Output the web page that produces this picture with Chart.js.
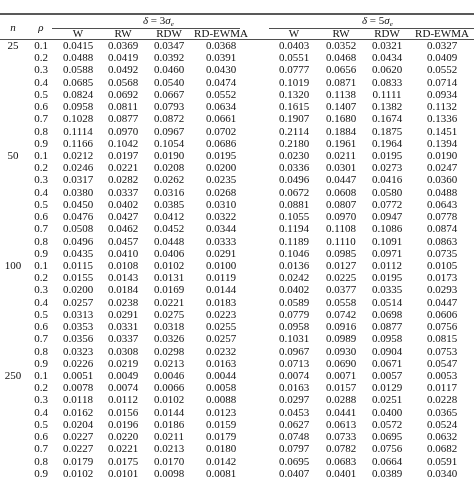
<!DOCTYPE html>
<html><head><meta charset="utf-8">
<script src="https://cdn.jsdelivr.net/npm/chart.js@4"></script>
<style>html,body{margin:0;padding:0;background:#fff}#w{width:474px;height:484px}</style>
</head><body><div id="w"><canvas id="c"></canvas></div>
<script>
const nValues = ["25","50","100","250"];
const rhoValues = ["0.1","0.2","0.3","0.4","0.5","0.6","0.7","0.8","0.9"];
const colHeaders = ["W","RW","RDW","RD-EWMA","W","RW","RDW","RD-EWMA"];
const groupHeaders = ["δ = 3σ","δ = 5σ"];
const W3 = ["0.0415","0.0488","0.0588","0.0685","0.0824","0.0958","0.1028","0.1114","0.1166","0.0212","0.0246","0.0317","0.0380","0.0450","0.0476","0.0508","0.0496","0.0435","0.0115","0.0155","0.0200","0.0257","0.0313","0.0353","0.0356","0.0323","0.0226","0.0051","0.0078","0.0118","0.0162","0.0204","0.0227","0.0227","0.0179","0.0102"];
const RW3 = ["0.0369","0.0419","0.0492","0.0568","0.0692","0.0811","0.0877","0.0970","0.1042","0.0197","0.0221","0.0282","0.0337","0.0402","0.0427","0.0462","0.0457","0.0410","0.0108","0.0143","0.0184","0.0238","0.0291","0.0331","0.0337","0.0308","0.0219","0.0049","0.0074","0.0112","0.0156","0.0196","0.0220","0.0221","0.0175","0.0101"];
const RDW3 = ["0.0347","0.0392","0.0460","0.0540","0.0667","0.0793","0.0872","0.0967","0.1054","0.0190","0.0208","0.0262","0.0316","0.0385","0.0412","0.0452","0.0448","0.0406","0.0102","0.0131","0.0169","0.0221","0.0275","0.0318","0.0326","0.0298","0.0213","0.0046","0.0066","0.0102","0.0144","0.0186","0.0211","0.0213","0.0170","0.0098"];
const RDE3 = ["0.0368","0.0391","0.0430","0.0474","0.0552","0.0634","0.0661","0.0702","0.0686","0.0195","0.0200","0.0235","0.0268","0.0310","0.0322","0.0344","0.0333","0.0291","0.0100","0.0119","0.0144","0.0183","0.0223","0.0255","0.0257","0.0232","0.0163","0.0044","0.0058","0.0088","0.0123","0.0159","0.0179","0.0180","0.0142","0.0081"];
const W5 = ["0.0403","0.0551","0.0777","0.1019","0.1320","0.1615","0.1907","0.2114","0.2180","0.0230","0.0336","0.0496","0.0672","0.0881","0.1055","0.1194","0.1189","0.1046","0.0136","0.0242","0.0402","0.0589","0.0779","0.0958","0.1031","0.0967","0.0713","0.0074","0.0163","0.0297","0.0453","0.0627","0.0748","0.0797","0.0695","0.0407"];
const RW5 = ["0.0352","0.0468","0.0656","0.0871","0.1138","0.1407","0.1680","0.1884","0.1961","0.0211","0.0301","0.0447","0.0608","0.0807","0.0970","0.1108","0.1110","0.0985","0.0127","0.0225","0.0377","0.0558","0.0742","0.0916","0.0989","0.0930","0.0690","0.0071","0.0157","0.0288","0.0441","0.0613","0.0733","0.0782","0.0683","0.0401"];
const RDW5 = ["0.0321","0.0434","0.0620","0.0833","0.1111","0.1382","0.1674","0.1875","0.1964","0.0195","0.0273","0.0416","0.0580","0.0772","0.0947","0.1086","0.1091","0.0971","0.0112","0.0195","0.0335","0.0514","0.0698","0.0877","0.0958","0.0904","0.0671","0.0057","0.0129","0.0251","0.0400","0.0572","0.0695","0.0756","0.0664","0.0389"];
const RDE5 = ["0.0327","0.0409","0.0552","0.0714","0.0934","0.1132","0.1336","0.1451","0.1394","0.0190","0.0247","0.0360","0.0488","0.0643","0.0778","0.0874","0.0863","0.0735","0.0105","0.0173","0.0293","0.0447","0.0606","0.0756","0.0815","0.0753","0.0547","0.0053","0.0117","0.0228","0.0365","0.0524","0.0632","0.0682","0.0591","0.0340"];

const columns = [W3,RW3,RDW3,RDE3,W5,RW5,RDW5,RDE5];
const colX = [78,123,169,221,294,341,387,442];
const nX = 13, rhoX = 41;
const FONT = '11px "Liberation Serif", "DejaVu Serif", serif';

const nRows = rhoValues.length * nValues.length;
const rowLabelsN = [], rowLabelsRho = [];
for (let g=0; g<nValues.length; g++) for (let r=0; r<rhoValues.length; r++) {
  rowLabelsN.push(r===0 ? nValues[g] : "");
  rowLabelsRho.push(rhoValues[r]);
}
const allCols = [rowLabelsN, rowLabelsRho, ...columns];
const allX = [nX, rhoX, ...colX];
const datasets = allCols.map((col,ci)=>({
  data: col.map((v,i)=>({x: allX[ci], y: i, t: v})),
  pointRadius: 0, showLine:false
}));

const tablePlugin = {
  id:'table',
  afterDatasetsDraw(chart){
    const ctx = chart.ctx;
    ctx.save();
    ctx.fillStyle = '#111';
    ctx.font = FONT;
    ctx.textAlign = 'center';
    ctx.textBaseline = 'middle';
    chart.data.datasets.forEach((ds,di)=>{
      const meta = chart.getDatasetMeta(di);
      meta.data.forEach((pt,i)=>{ ctx.fillText(ds.data[i].t, pt.x, pt.y); });
    });
    const xs = chart.scales.x;
    // headers
    colHeaders.forEach((h,i)=>ctx.fillText(h, xs.getPixelForValue(colX[i]), 34));
    ctx.font = 'italic ' + FONT;
    ctx.fillText('n', xs.getPixelForValue(nX), 28);
    ctx.fillText('ρ', xs.getPixelForValue(rhoX), 28);
    [[155,'3'],[374,'5']].forEach(([cx,k])=>{
      ctx.textAlign='right';
      ctx.font = 'italic ' + FONT; ctx.fillText('δ', cx-7, 21);
      ctx.textAlign='left';
      ctx.font = FONT; ctx.fillText(' = '+k, cx-7, 21);
      const w = ctx.measureText(' = '+k).width;
      ctx.font = 'italic ' + FONT; ctx.fillText('σ', cx-7+w, 21);
      const w2 = ctx.measureText('σ').width;
      ctx.font = 'italic 7px "Liberation Serif", serif'; ctx.fillText('e', cx-7+w+w2, 24);
      ctx.textAlign='center'; ctx.font = FONT;
    });
    ctx.strokeStyle = '#222';
    ctx.lineWidth = 1.3;
    ctx.beginPath(); ctx.moveTo(0,14); ctx.lineTo(474,14); ctx.stroke();
    ctx.lineWidth = 0.8;
    ctx.beginPath(); ctx.moveTo(52,28.5); ctx.lineTo(240,28.5); ctx.moveTo(269,28.5); ctx.lineTo(474,28.5); ctx.stroke();
    ctx.beginPath(); ctx.moveTo(0,39.5); ctx.lineTo(474,39.5); ctx.stroke();
    ctx.restore();
  }
};

new Chart(document.getElementById('c'), {
  type:'scatter',
  data:{datasets},
  options:{
    responsive:true, maintainAspectRatio:false, animation:false,
    layout:{padding:{top:40,bottom:4,left:0,right:0}},
    plugins:{legend:{display:false},tooltip:{enabled:false}},
    scales:{
      x:{type:'linear',min:0,max:474,display:false},
      y:{type:'linear',min:-0.5,max:nRows-0.5,reverse:true,display:false}
    }
  },
  plugins:[tablePlugin]
});
</script></body></html>
